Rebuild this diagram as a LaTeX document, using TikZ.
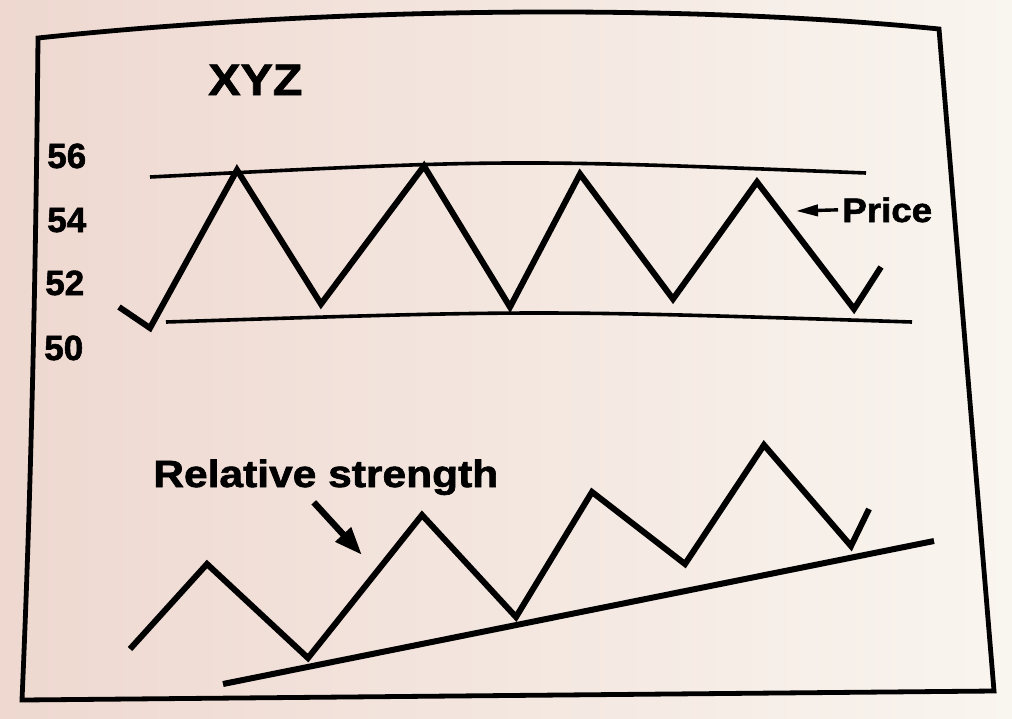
\documentclass[tikz,border=0pt]{standalone}
\usepackage{fontspec}
\setmainfont{Liberation Sans}[BoldFeatures={FakeBold=1.6}]
\usepackage{tikz}
\usetikzlibrary{arrows.meta}
\definecolor{fondosx}{RGB}{238,216,208}
\definecolor{fondodx}{RGB}{249,245,239}

\begin{document}
\begin{tikzpicture}[x=0.025cm, y=-0.025cm,
    cornice/.style={line width=1.2mm, line join=miter},
    linea/.style={line width=1.5mm, line join=miter},
    livello/.style={line width=0.9mm},
    etichetta/.style={inner sep=0pt, anchor=base west},
    tacca/.style={etichetta, font=\fontsize{24.9}{30}\selectfont\bfseries},
    freccia/.style={-{Triangle[length=5.5mm, width=2.8mm]}, line width=0.85mm},
    frecciona/.style={-{Triangle[length=7mm, width=5mm]}, line width=1.6mm},
]
\useasboundingbox (0,0) rectangle (1012,718);
% sfondo
\shade[left color=fondosx, right color=fondodx] (0,0) rectangle (1012,718);

% cornice
\draw[cornice] (38,38) .. controls (350,5) and (700,5) .. (939,29) -- (994,691)
    -- (22,700) .. controls (32,470) and (36,250) .. cycle;

% titolo e scala
\node[etichetta, font=\fontsize{31.3}{36}\selectfont\bfseries] (xyz) at (208,95) {\scalebox{1.1}[1]{XYZ}};
\foreach \v/\x/\y in {56/47/168, 54/47/232, 52/45/295, 50/44/360} {
    \node[tacca] (l\v) at (\x,\y) {\v};
}

% prezzo
\draw[livello] (150,177) .. controls (508,159) .. (866,173);
\draw[livello] (166,322) .. controls (539,310) .. (912,322);
\draw[linea] (119,307) -- (150,328) -- (237,170) -- (321,304) -- (424,166) -- (510,307)
    -- (580,174) -- (673,299) -- (757,182) -- (854,309) -- (881,267);
\node[etichetta, font=\fontsize{24.2}{30}\selectfont\bfseries] (price) at (842,222) {\scalebox{1.08}[1]{Price}};
\coordinate (puntaprezzo) at (796,211);
\draw[freccia] ([xshift=-1mm]price.west) -- (puntaprezzo);

% forza relativa
\draw[linea] (130,649) -- (207,564) -- (308,658) -- (422,515) -- (516,617) -- (592,492)
    -- (685,564) -- (764,445) -- (851,546) -- (869,509);
\draw[linea] (223,684) -- (934,541);
\node[etichetta, font=\fontsize{27}{32}\selectfont\bfseries] (rs) at (153,487) {\scalebox{1.12}[1]{Relative strength}};
\coordinate (puntarf) at (362,555);
\draw[frecciona] ([shift={(-12,7)}]rs.south) -- (puntarf);
\end{tikzpicture}
\end{document}
